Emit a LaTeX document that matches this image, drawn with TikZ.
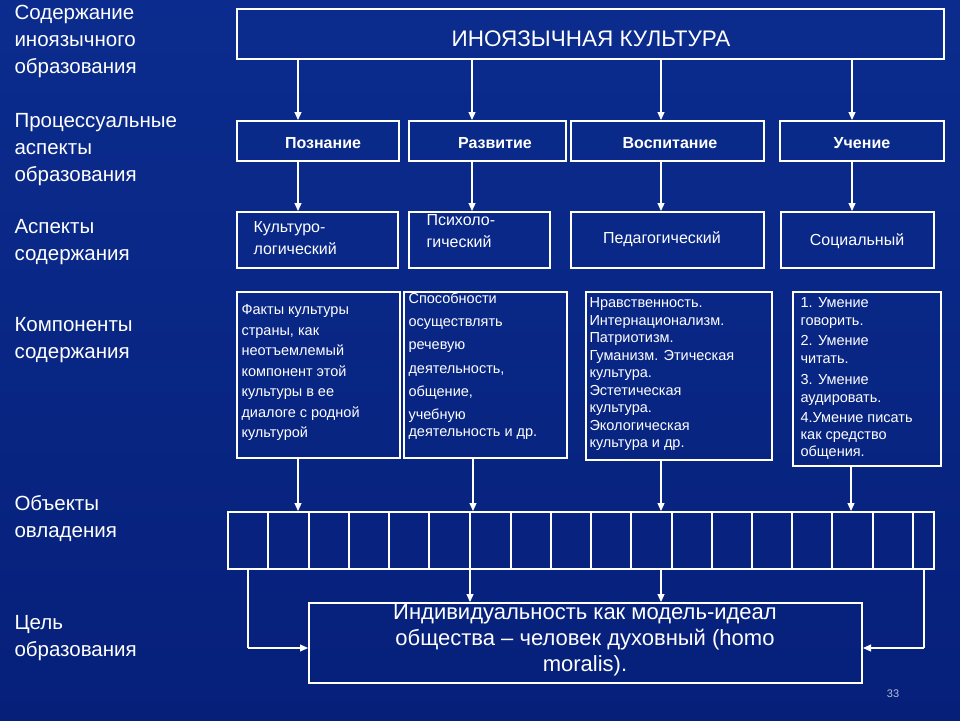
\documentclass[tikz,border=0pt]{standalone}
\usepackage{fontspec}
\setmainfont{Liberation Sans}
\usetikzlibrary{arrows.meta}
\definecolor{bgA}{HTML}{0B2C8E}
\definecolor{bgB}{HTML}{06207A}
\tikzset{
 bx/.style={draw=white,line width=1.6pt,text=white},
 lab/.style={text=white,anchor=north west,align=left,font=\fontsize{20.5}{27}\selectfont},
 ar/.style={draw=white,line width=1.2pt,-{Triangle[width=7pt,length=8pt]}},
 ln/.style={draw=white,line width=1.2pt},
 comp/.style={text=white,anchor=north west,align=left,font=\fontsize{14.5}{20.5}\selectfont}
}
\begin{document}
\begin{tikzpicture}[x=1pt,y=-1pt]
\useasboundingbox (0,0) rectangle (960,720);
\shade[top color=bgA,bottom color=bgB] (0,0) rectangle (960,720);
% left labels
\node[lab] (l1) at (11,2) {Содержание\\иноязычного\\образования};
\node[lab] (l2) at (11,110) {Процессуальные\\аспекты\\образования};
\node[lab] (l3) at (11,216) {Аспекты\\содержания};
\node[lab] (l4) at (11,314) {Компоненты\\содержания};
\node[lab] (l5) at (11,492) {Объекты\\овладения};
\node[lab] (l6) at (11,612) {Цель\\образования};
% title
\draw[bx] (237,9) rectangle (944,59);
\node[text=white,font=\fontsize{22.5}{26}\selectfont] (t) at (591,39) {ИНОЯЗЫЧНАЯ КУЛЬТУРА};
% row 2
\draw[bx] (237,121) rectangle (399,161);
\draw[bx] (409,121) rectangle (566,161);
\draw[bx] (571,121) rectangle (764,161);
\draw[bx] (780,121) rectangle (944,161);
\node[text=white,font=\bfseries\fontsize{16}{18}\selectfont] (p1) at (323,143) {Познание};
\node[text=white,font=\bfseries\fontsize{16}{18}\selectfont] (p2) at (495,143) {Развитие};
\node[text=white,font=\bfseries\fontsize{16}{18}\selectfont] (p3) at (670,143) {Воспитание};
\node[text=white,font=\bfseries\fontsize{16}{18}\selectfont] (p4) at (862,143) {Учение};
% row 3
\draw[bx] (237,212) rectangle (398,268);
\draw[bx] (409,212) rectangle (550,268);
\draw[bx] (571,212) rectangle (764,268);
\draw[bx] (781,212) rectangle (934,268);
\node[text=white,align=left,anchor=north west,font=\fontsize{16}{22}\selectfont] (a1) at (250,218) {Культуро-\\логический};
\node[text=white,align=left,anchor=north west,font=\fontsize{16}{22}\selectfont] (a2) at (423,211) {Психоло-\\гический};
\node[text=white,font=\fontsize{16}{18}\selectfont] (a3) at (662,239) {Педагогический};
\node[text=white,font=\fontsize{16}{18}\selectfont] (a4) at (857,241) {Социальный};
% arrows title -> row2 -> row3
\foreach \x in {298,472,661,852}{
 \draw[ar] (\x,59) -- (\x,120);
 \draw[ar] (\x,161) -- (\x,211);
}
% row 4
\draw[bx] (237,292) rectangle (400,458);
\draw[bx] (404,292) rectangle (567,458);
\draw[bx] (586,292) rectangle (772,460);
\draw[bx] (793,292) rectangle (941,466);
\node[comp] (c1) at (238,301) {Факты культуры\\страны, как\\неотъемлемый\\компонент этой\\культуры в ее\\диалоге с родной\\культурой};
\node[comp,font=\fontsize{14.5}{23.3}\selectfont] (c2) at (405,289) {Способности\\осуществлять\\речевую\\деятельность,\\общение,\\учебную};
\node[comp] (c2b) at (405,425) {деятельность и др.};
\node[comp,font=\fontsize{14.5}{17.5}\selectfont] (c3) at (586,294) {Нравственность.\\Интернационализм.\\Патриотизм.\\Гуманизм. Этическая\\культура.\\Эстетическая\\культура.\\Экологическая\\культура и др.};
\node[comp,font=\fontsize{14.5}{18}\selectfont] (c4) at (797,294) {1. Умение\\говорить.};
\node[comp,font=\fontsize{14.5}{18}\selectfont] (c5) at (797,332) {2. Умение\\читать.};
\node[comp,font=\fontsize{14.5}{18}\selectfont] (c6) at (797,371) {3. Умение\\аудировать.};
\node[comp,font=\fontsize{14.5}{17}\selectfont] (c7) at (797,409) {4.Умение писать\\как средство\\общения.};
% arrows to strip
\draw[ar] (298,458) -- (298,511);
\draw[ar] (473,458) -- (473,511);
\draw[ar] (661,460) -- (661,511);
\draw[ar] (851,466) -- (851,511);
% strip
\draw[bx] (228,512) rectangle (934,569);
\foreach \x in {268,309,349,389,429,470,511,551,591,631,672,712,752,792,832,873,913}{
 \draw[white,line width=1.6pt] (\x,512) -- (\x,569);
}
% goal box
\draw[bx] (309,603) rectangle (862,683);
\node[text=white,align=center,font=\fontsize{22}{26}\selectfont] (g) at (585,640) {Индивидуальность как модель-идеал\\общества – человек духовный (homo\\moralis).};
\draw[ar] (470,569) -- (470,602);
\draw[ar] (661,569) -- (661,602);
\draw[ln] (248,569) -- (248,648);
\draw[ar] (248,648) -- (308,648);
\draw[ln] (924,569) -- (924,648);
\draw[ar] (924,648) -- (863,648);
\node[text=white!70!bgA,font=\fontsize{11}{12}\selectfont] (pg) at (893,694) {33};
\end{tikzpicture}
\end{document}
